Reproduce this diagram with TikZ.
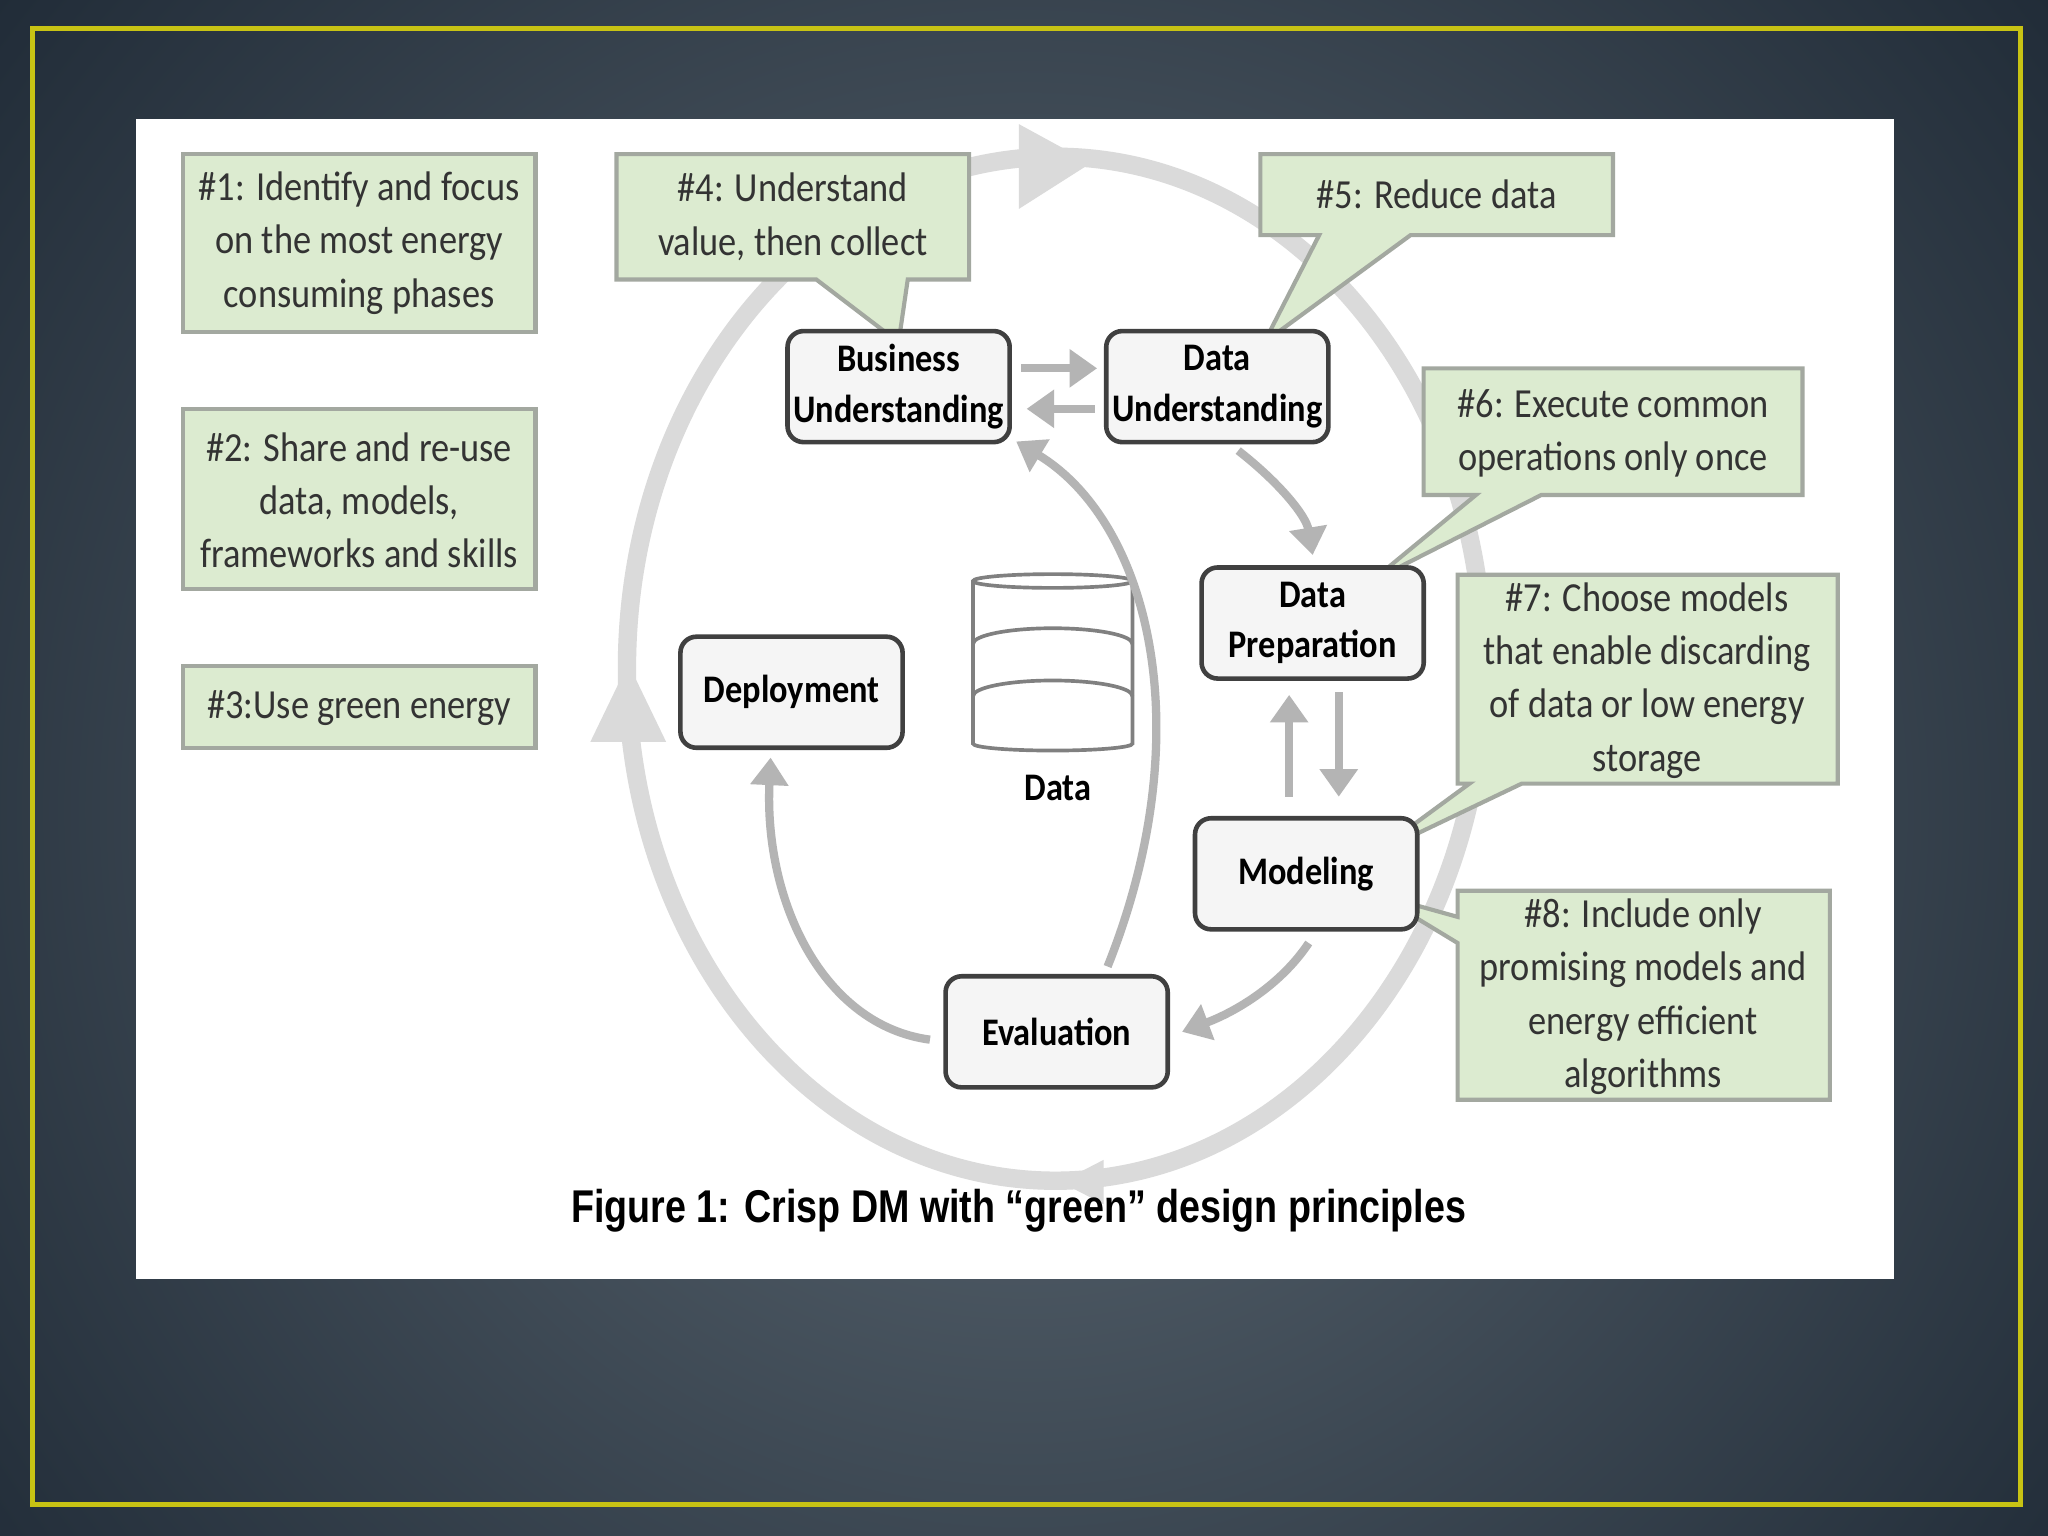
\documentclass[tikz,border=0pt]{standalone}
\usepackage{fontspec}
\setmainfont[FakeStretch=0.88]{Carlito}
\newfontfamily\capfont[FakeStretch=0.82]{Liberation Sans}
\usetikzlibrary{shapes.geometric,arrows.meta}
\definecolor{bgin}{HTML}{5F6B75}
\definecolor{bgout}{HTML}{1E2935}
\definecolor{callfill}{HTML}{DCEBD0}
\definecolor{callline}{HTML}{A3A8A0}
\definecolor{ringc}{HTML}{DADADA}
\definecolor{arrc}{HTML}{B4B4B4}
\tikzset{
  callout/.style={fill=callfill,draw=callline,line width=0.9pt},
  ctext/.style={align=center,font=\fontsize{9}{11.6}\selectfont,text=black!80},
  phase/.style={draw=black!75,fill=black!4,rounded corners=3.5pt,line width=1pt,minimum width=1.7cm,minimum height=0.85cm,align=center,font=\bfseries\fontsize{8.5}{11}\selectfont,inner sep=1pt},
  garrow/.style={draw=arrc,line width=1.8pt,-{Triangle[length=6pt,width=8pt]}},
}
\begin{document}
\begin{tikzpicture}[x=0.01cm,y=-0.01cm]
\useasboundingbox (0,0) rectangle (1568,1176);
\fill[bgout] (0,0) rectangle (1568,1176);
\begin{scope}
\clip (0,0) rectangle (1568,1176);
\shade[inner color=bgin,outer color=bgout] (784,620) circle [radius=1050];
\end{scope}
\draw[draw={rgb,255:red,200;green,195;blue,20},line width=1.2pt] (25,22) rectangle (1547,1152);
\fill[white] (104,91) rectangle (1450,979);
% ring
\draw[ringc,line width=4pt] (808,512) ellipse [x radius=328, y radius=392];
\fill[ringc] (780,95) -- (835,125) -- (780,160) -- cycle;
\fill[ringc] (452,568) -- (481,508) -- (510,568) -- cycle;
\fill[ringc] (845,888) -- (812,905) -- (845,922) -- cycle;
% callouts
\draw[callout] (140,118) rectangle (410,254);
\node[ctext] (c1) at (275,186) {\#1: Identify and focus\\on the most energy\\consuming phases};
\draw[callout] (140,313) rectangle (410,451);
\node[ctext] (c2) at (275,383) {\#2: Share and re-use\\data, models,\\frameworks and skills};
\draw[callout] (140,510) rectangle (410,573);
\node[ctext] (c3) at (275,542) {\#3:Use green energy};
\draw[callout] (472,118) -- (742,118) -- (742,214) -- (695,214) -- (688,262) -- (625,214) -- (472,214) -- cycle;
\node[ctext] (c4) at (607,166) {\#4: Understand\\value, then collect};
\draw[callout] (965,118) -- (1235,118) -- (1235,180) -- (1080,180) -- (968,262) -- (1010,180) -- (965,180) -- cycle;
\node[ctext] (c5) at (1100,149) {\#5: Reduce data};
\draw[callout] (1090,282) -- (1380,282) -- (1380,379) -- (1180,379) -- (1050,445) -- (1130,379) -- (1090,379) -- cycle;
\node[ctext] (c6) at (1235,332) {\#6: Execute common\\operations only once};
\draw[callout] (1116,440) -- (1407,440) -- (1407,600) -- (1165,600) -- (1050,655) -- (1125,600) -- (1116,600) -- cycle;
\node[ctext] (c7) at (1261,521) {\#7: Choose models\\that enable discarding\\of data or low energy\\storage};
\draw[callout] (1116,682) -- (1401,682) -- (1401,842) -- (1116,842) -- (1116,722) -- (1055,685) -- (1116,702) -- cycle;
\node[ctext] (c8) at (1258,763) {\#8: Include only\\promising models and\\energy efficient\\algorithms};
% phases
\node[phase] (bu) at (688,296) {Business\\Understanding};
\node[phase] (du) at (932,296) {Data\\Understanding};
\node[phase] (dp) at (1005,477) {Data\\Preparation};
\node[phase] (mo) at (1000,669) {Modeling};
\node[phase] (ev) at (809,790) {Evaluation};
\node[phase] (de) at (606,530) {Deployment};
% data cylinder
\node[cylinder,shape border rotate=90,draw=black!50,fill=white,line width=0.8pt,minimum width=1.22cm,minimum height=1.35cm,aspect=0.45] (db) at (806,512) {};
\draw[black!50,line width=0.8pt] (745,493) arc[start angle=180,end angle=360,x radius=61,y radius=12];
\draw[black!50,line width=0.8pt] (745,533) arc[start angle=180,end angle=360,x radius=61,y radius=12];
\node[font=\bfseries\fontsize{8.5}{10}\selectfont] (dl) at (810,603) {Data};
% arrow end points
\coordinate (a1) at (782,282); \coordinate (a2) at (840,282);
\coordinate (b1) at (838,313); \coordinate (b2) at (786,313);
\coordinate (c1s) at (948,345); \coordinate (c1e) at (1005,425);
\coordinate (d1) at (987,610); \coordinate (d2) at (987,532);
\coordinate (e1) at (1025,530); \coordinate (e2) at (1025,610);
\coordinate (f1) at (1002,722); \coordinate (f2) at (905,790);
\coordinate (g1) at (848,740); \coordinate (g2) at (778,338);
\coordinate (h1) at (712,796); \coordinate (h2) at (590,580);
\draw[garrow] (a1) -- (a2);
\draw[garrow] (b1) -- (b2);
\draw[garrow] (c1s) .. controls (980,370) and (1000,395) .. (c1e);
\draw[garrow] (d1) -- (d2);
\draw[garrow] (e1) -- (e2);
\draw[garrow] (f1) .. controls (980,755) and (945,775) .. (f2);
\draw[garrow] (g1) .. controls (920,560) and (880,400) .. (g2);
\draw[garrow] (h1) .. controls (630,785) and (585,690) .. (h2);
% caption
\node[font=\capfont\bfseries\fontsize{10}{12}\selectfont] (cap) at (780,927) {Figure 1: Crisp DM with “green” design principles};
\end{tikzpicture}
\end{document}
